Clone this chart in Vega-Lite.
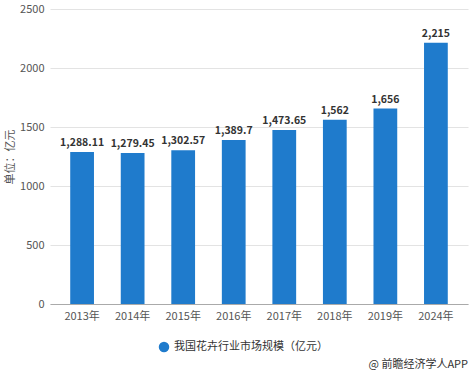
{
  "$schema": "https://vega.github.io/schema/vega-lite/v6.json",
  "width": 418,
  "height": 295,
  "autosize": {"type": "none"},
  "padding": {"left": 50, "top": 9, "right": 6, "bottom": 69},
  "background": "white",
  "config": {
    "font": "Noto Sans CJK SC",
    "view": {"stroke": null}
  },
  "title": {
    "text": "@ 前瞻经济学人APP",
    "orient": "bottom",
    "anchor": "end",
    "offset": 6,
    "fontSize": 11,
    "fontWeight": "normal",
    "color": "#333333",
    "font": "Noto Sans CJK SC"
  },
  "data": {
    "values": [
      {"year": "2013年", "value": 1288.11, "series": "我国花卉行业市场规模（亿元）"},
      {"year": "2014年", "value": 1279.45, "series": "我国花卉行业市场规模（亿元）"},
      {"year": "2015年", "value": 1302.57, "series": "我国花卉行业市场规模（亿元）"},
      {"year": "2016年", "value": 1389.7, "series": "我国花卉行业市场规模（亿元）"},
      {"year": "2017年", "value": 1473.65, "series": "我国花卉行业市场规模（亿元）"},
      {"year": "2018年", "value": 1562, "series": "我国花卉行业市场规模（亿元）"},
      {"year": "2019年", "value": 1656, "series": "我国花卉行业市场规模（亿元）"},
      {"year": "2024年", "value": 2215, "series": "我国花卉行业市场规模（亿元）"}
    ]
  },
  "encoding": {
    "x": {
      "field": "year",
      "type": "nominal",
      "sort": null,
      "scale": {"paddingInner": 0.53, "paddingOuter": 0.4},
      "axis": {
        "title": null,
        "labelAngle": 0,
        "labelFontSize": 11,
        "labelColor": "#555555",
        "labelPadding": 6,
        "domainColor": "#aaaaaa",
        "ticks": false
      }
    },
    "y": {
      "field": "value",
      "type": "quantitative",
      "scale": {"domain": [0, 2500]},
      "axis": {
        "title": "单位：亿元",
        "titleFontSize": 11,
        "titleFontWeight": "normal",
        "titleColor": "#555555",
        "titlePadding": 4,
        "format": "d",
        "values": [0, 500, 1000, 1500, 2000, 2500],
        "labelFontSize": 11,
        "labelColor": "#555555",
        "labelPadding": 6,
        "domain": false,
        "ticks": false,
        "gridColor": "#e3e3e3"
      }
    }
  },
  "layer": [
    {
      "mark": {"type": "bar", "color": "#1f7bcc"},
      "encoding": {
        "color": {
          "field": "series",
          "type": "nominal",
          "scale": {"range": ["#1f7bcc"]},
          "legend": {
            "title": null,
            "orient": "none",
            "legendX": 108,
            "legendY": 332,
            "symbolType": "circle",
            "symbolSize": 110,
            "labelFontSize": 11,
            "labelColor": "#333333",
            "labelFont": "Noto Sans CJK SC"
          }
        }
      }
    },
    {
      "mark": {"type": "text", "dy": -9, "fontSize": 10.5, "fontWeight": "bold", "color": "#333333"},
      "encoding": {
        "text": {"field": "value", "type": "quantitative", "format": ","}
      }
    }
  ]
}
